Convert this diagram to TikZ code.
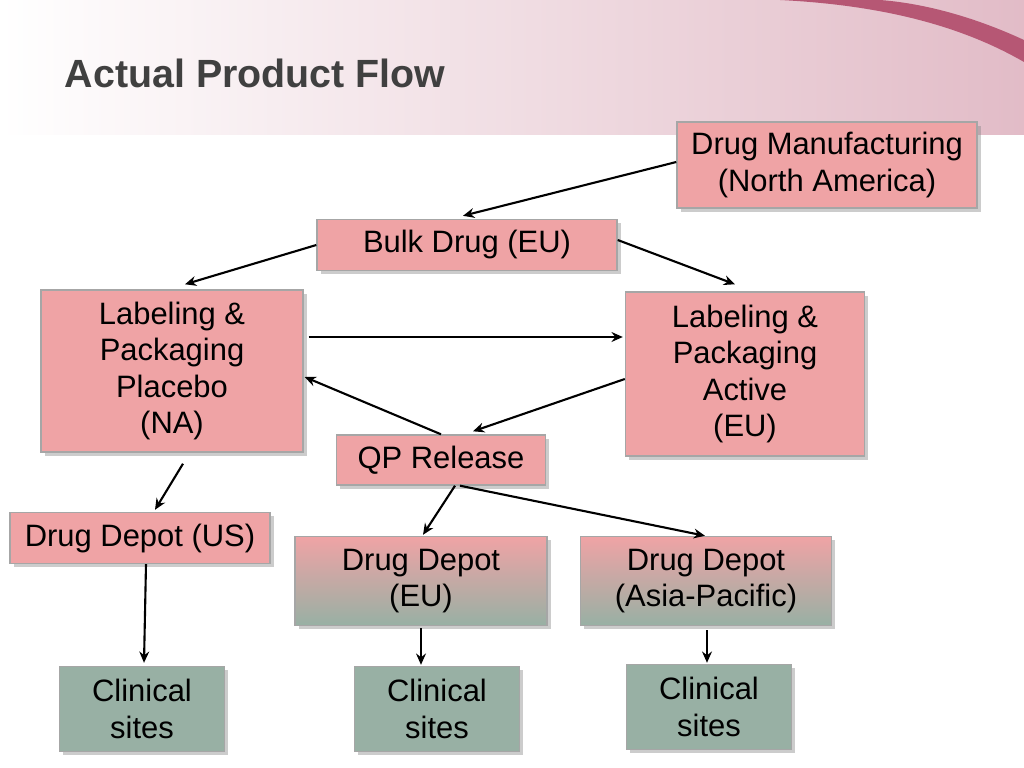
\documentclass[tikz,border=0pt]{standalone}
\usepackage{fontspec}
\setmainfont{Liberation Sans}
\usetikzlibrary{shadows,arrows.meta}
\definecolor{boxpink}{HTML}{EFA3A5}
\definecolor{boxgrey}{HTML}{98B0A4}
\definecolor{headred}{HTML}{9E1F45}
\begin{document}
\begin{tikzpicture}[x=0.025cm,y=-0.025cm,
    box/.style={draw=gray!70,line width=1pt,fill=boxpink,drop shadow={opacity=0.4},
      align=center,font=\fontsize{22}{26}\selectfont,inner sep=0pt},
    depot/.style={box,top color=boxpink,bottom color=boxgrey},
    site/.style={box,fill=boxgrey},
    arr/.style={-{Stealth[length=8pt,width=7pt]},line width=1.5pt}]
  \useasboundingbox (0,0) rectangle (1024,768);

  % header band
  \shade[left color=white,right color=headred!30] (0,0) rectangle (1024,135);
  \fill[headred!75] (780,0) .. controls (880,5) and (960,25) .. (1024,62) -- (1024,40)
    .. controls (970,15) and (920,3) .. (880,0) -- cycle;
  \node[anchor=west,font=\fontsize{28}{32}\selectfont\bfseries,text=black!75] (title) at (60,73) {Actual Product Flow};

  \node[box,minimum width=300*0.025cm,minimum height=86*0.025cm] (manu) at (827,165) {Drug Manufacturing\\(North America)};
  \node[box,minimum width=300*0.025cm,minimum height=51*0.025cm] (bulk) at (467,245) {Bulk Drug (EU)};
  \node[box,minimum width=262*0.025cm,minimum height=162*0.025cm] (lpplac) at (172,371) {Labeling \&\\Packaging\\Placebo\\(NA)};
  \node[box,minimum width=239*0.025cm,minimum height=164*0.025cm] (lpact) at (745,374) {Labeling \&\\Packaging\\Active\\(EU)};
  \node[box,minimum width=209*0.025cm,minimum height=50*0.025cm] (qp) at (441,460) {QP Release};
  \node[box,minimum width=260*0.025cm,minimum height=51*0.025cm] (depus) at (140,538) {Drug Depot (US)};
  \node[depot,minimum width=252*0.025cm,minimum height=89*0.025cm] (depeu) at (421,581) {Drug Depot\\(EU)};
  \node[depot,minimum width=251*0.025cm,minimum height=89*0.025cm] (depap) at (706,581) {Drug Depot\\(Asia-Pacific)};
  \node[site,minimum width=165*0.025cm,minimum height=85*0.025cm] (site1) at (142,709) {Clinical\\sites};
  \node[site,minimum width=165*0.025cm,minimum height=85*0.025cm] (site2) at (437,709) {Clinical\\sites};
  \node[site,minimum width=165*0.025cm,minimum height=85*0.025cm] (site3) at (709,707) {Clinical\\sites};

  \draw[arr] ([shift={(0,-3)}]manu.west) -- ([shift={(-4,-3)}]bulk.north);
  \draw[arr] (bulk.west) -- ([shift={(13,-5)}]lpplac.north);
  \draw[arr] ([shift={(0,-5)}]bulk.east) -- ([shift={(-10,-7)}]lpact.north);
  \draw[arr] ([shift={(5,-34)}]lpplac.east) -- ([shift={(-2,-37)}]lpact.west);
  \draw[arr] (qp.north) -- ([shift={(1,6)}]lpplac.east);
  \draw[arr] ([shift={(0,5)}]lpact.west) -- ([shift={(32,-3)}]qp.north);
  \draw[arr] ([shift={(11,11)}]lpplac.south) -- ([shift={(15,-2)}]depus.north);
  \draw[arr] ([shift={(14,0)}]qp.south) -- ([shift={(2,-1)}]depeu.north);
  \draw[arr] ([shift={(19,0)}]qp.south) -- ([shift={(-1,0)}]depap.north);
  \draw[arr] ([shift={(6,0)}]depus.south) -- ([shift={(2,-3)}]site1.north);
  \draw[arr] ([shift={(0,2)}]depeu.south) -- ([shift={(-16,-1)}]site2.north);
  \draw[arr] ([shift={(1,4)}]depap.south) -- ([shift={(-2,-1)}]site3.north);
\end{tikzpicture}
\end{document}
